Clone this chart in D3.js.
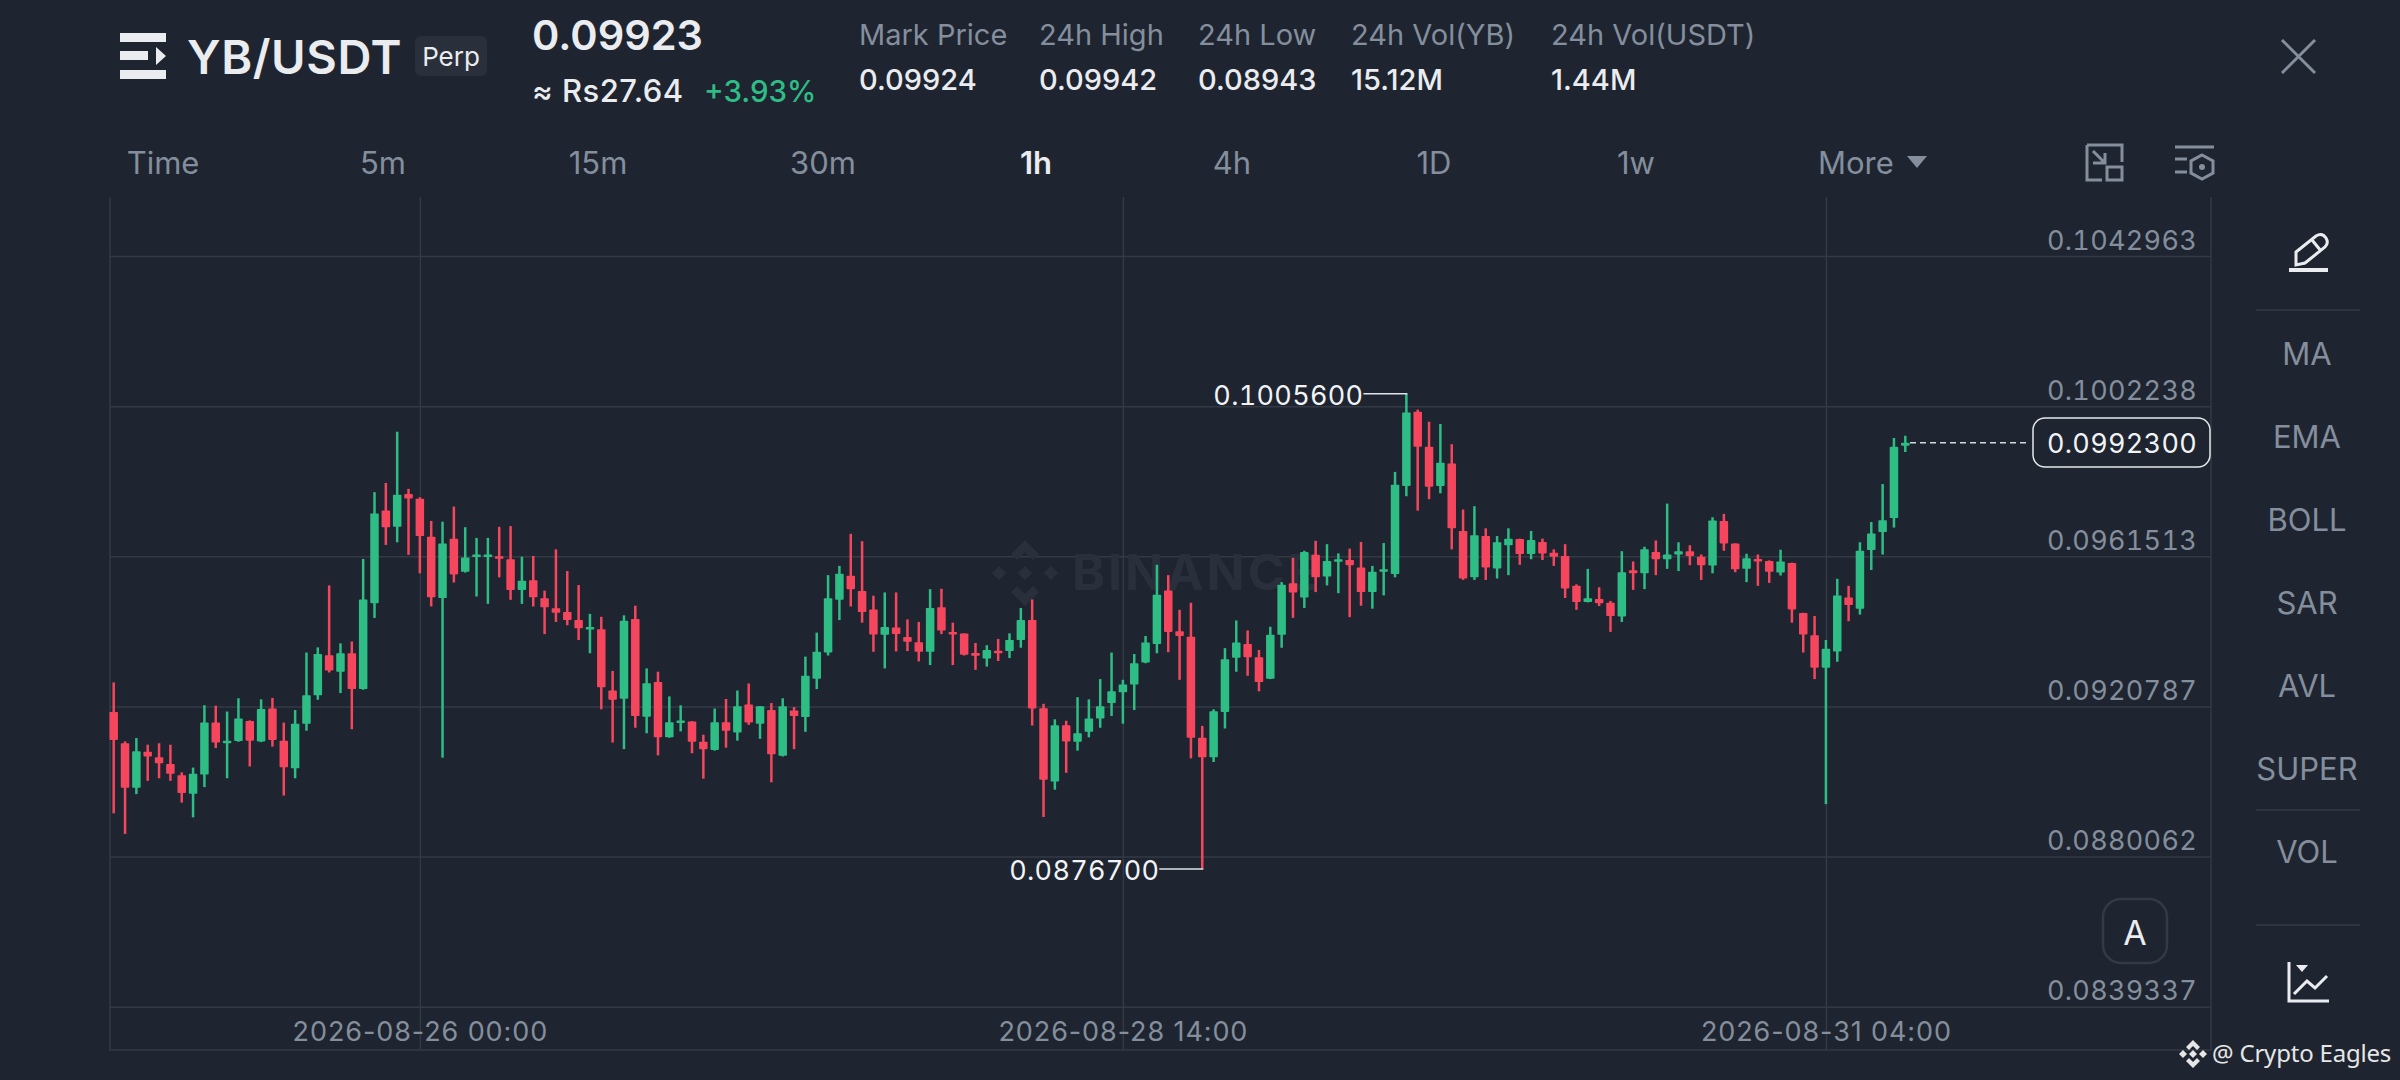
<!DOCTYPE html>
<html>
<head>
<meta charset="utf-8">
<title>YB/USDT Perp</title>
<script src="https://d3js.org/d3.v7.min.js"></script>
<style>
  html, body { margin: 0; padding: 0; background: #1e2530; overflow: hidden; }
  svg { display: block; }
  text { font-family: Inter, "Noto Sans", sans-serif; }
  .grey { fill: #848e9c; }
  .white { fill: #eaecef; }
  .grid line { stroke: #343a44; stroke-width: 1.5; }
  .grid .domain, .labels .domain { display: none; }
  .labels text { fill: #848e9c; font-size: 27px; font-family: Inter, "Noto Sans", sans-serif; }
  .price-text { font-variant-numeric: tabular-nums; letter-spacing: 0.3px; }
  .time-text { letter-spacing: 0.9px; }
  .icon { fill: none; stroke: #848e9c; stroke-width: 3; }
  .icon-w { fill: none; stroke: #eaecef; stroke-width: 3; }
</style>
</head>
<body>
<div id="chart"></div>

<script>

// hourly candles
var highs = [
  0.09273,0.09113,0.09122,0.09104,0.09108,0.09104,0.09029,0.09042,0.09211,0.09210,
  0.09194,0.09230,0.09170,0.09227,0.09231,0.09164,0.09198,0.09354,0.09368,0.09536,
  0.09379,0.09384,0.09608,0.09789,0.09814,0.09953,0.09798,0.09775,0.09711,0.09709,
  0.09750,0.09694,0.09665,0.09665,0.09695,0.09697,0.09614,0.09616,0.09522,0.09634,
  0.09575,0.09537,0.09459,0.09451,0.09304,0.09455,0.09481,0.09311,0.09302,0.09235,
  0.09211,0.09168,0.09131,0.09202,0.09228,0.09251,0.09270,0.09209,0.09217,0.09230,
  0.09206,0.09343,0.09408,0.09564,0.09589,0.09676,0.09656,0.09508,0.09517,0.09517,
  0.09444,0.09437,0.09526,0.09527,0.09435,0.09406,0.09380,0.09374,0.09391,0.09406,
  0.09475,0.09498,0.09215,0.09173,0.09169,0.09233,0.09227,0.09282,0.09354,0.09280,
  0.09350,0.09399,0.09592,0.09564,0.09470,0.09489,0.09155,0.09200,0.09366,0.09441,
  0.09414,0.09361,0.09424,0.09545,0.09611,0.09630,0.09657,0.09648,0.09623,0.09636,
  0.09654,0.09589,0.09651,0.09844,0.10056,0.10013,0.09980,0.09974,0.09919,0.09742,
  0.09751,0.09691,0.09670,0.09691,0.09663,0.09684,0.09663,0.09634,0.09648,0.09539,
  0.09581,0.09531,0.09494,0.09629,0.09601,0.09641,0.09658,0.09758,0.09653,0.09645,
  0.09620,0.09721,0.09730,0.09650,0.09622,0.09620,0.09604,0.09633,0.09598,0.09462,
  0.09453,0.09388,0.09554,0.09535,0.09653,0.09708,0.09811,0.09936,0.09942
];
var lows = [
  0.08918,0.08862,0.08970,0.09006,0.09013,0.09006,0.08947,0.08907,0.08989,0.09095,
  0.09013,0.09112,0.09045,0.09111,0.09099,0.08966,0.09013,0.09142,0.09226,0.09300,
  0.09244,0.09146,0.09253,0.09448,0.09646,0.09653,0.09619,0.09569,0.09479,0.09069,
  0.09544,0.09571,0.09506,0.09486,0.09558,0.09497,0.09486,0.09479,0.09404,0.09437,
  0.09428,0.09388,0.09352,0.09200,0.09110,0.09092,0.09150,0.09135,0.09075,0.09123,
  0.09140,0.09081,0.09012,0.09088,0.09096,0.09115,0.09158,0.09120,0.09002,0.09072,
  0.09092,0.09139,0.09255,0.09346,0.09442,0.09479,0.09435,0.09356,0.09311,0.09357,
  0.09358,0.09330,0.09320,0.09404,0.09320,0.09346,0.09307,0.09316,0.09331,0.09339,
  0.09367,0.09156,0.08908,0.08982,0.09028,0.09088,0.09124,0.09150,0.09182,0.09161,
  0.09198,0.09325,0.09352,0.09355,0.09280,0.09067,0.08767,0.09057,0.09148,0.09302,
  0.09291,0.09249,0.09282,0.09367,0.09448,0.09475,0.09518,0.09536,0.09515,0.09450,
  0.09481,0.09473,0.09509,0.09558,0.09778,0.09739,0.09770,0.09786,0.09634,0.09551,
  0.09551,0.09551,0.09555,0.09564,0.09592,0.09607,0.09605,0.09589,0.09502,0.09470,
  0.09490,0.09480,0.09410,0.09437,0.09524,0.09526,0.09564,0.09581,0.09575,0.09591,
  0.09551,0.09569,0.09630,0.09572,0.09545,0.09535,0.09543,0.09563,0.09435,0.09354,
  0.09282,0.08943,0.09329,0.09439,0.09457,0.09578,0.09620,0.09693,0.09898
];
var opens = [
  0.09193,0.09108,0.08987,0.09085,0.09070,0.09052,0.09021,0.08971,0.09023,0.09164,
  0.09110,0.09114,0.09168,0.09113,0.09202,0.09115,0.09040,0.09161,0.09238,0.09347,
  0.09302,0.09352,0.09255,0.09488,0.09739,0.09695,0.09784,0.09771,0.09668,0.09502,
  0.09663,0.09573,0.09614,0.09614,0.09615,0.09607,0.09524,0.09550,0.09501,0.09474,
  0.09464,0.09442,0.09417,0.09417,0.09251,0.09229,0.09445,0.09180,0.09274,0.09124,
  0.09164,0.09167,0.09112,0.09090,0.09165,0.09137,0.09213,0.09161,0.09198,0.09074,
  0.09197,0.09179,0.09283,0.09354,0.09497,0.09562,0.09521,0.09471,0.09402,0.09422,
  0.09396,0.09382,0.09356,0.09477,0.09410,0.09406,0.09353,0.09338,0.09359,0.09358,
  0.09388,0.09442,0.09203,0.09004,0.09157,0.09112,0.09139,0.09175,0.09217,0.09246,
  0.09267,0.09327,0.09377,0.09522,0.09412,0.09397,0.09123,0.09070,0.09193,0.09340,
  0.09377,0.09341,0.09283,0.09402,0.09542,0.09503,0.09619,0.09560,0.09601,0.09605,
  0.09585,0.09518,0.09573,0.09567,0.09806,0.10007,0.09912,0.09806,0.09867,0.09684,
  0.09558,0.09670,0.09582,0.09645,0.09662,0.09621,0.09654,0.09625,0.09616,0.09535,
  0.09491,0.09499,0.09489,0.09452,0.09577,0.09569,0.09627,0.09607,0.09620,0.09629,
  0.09614,0.09590,0.09711,0.09650,0.09581,0.09608,0.09602,0.09571,0.09597,0.09461,
  0.09401,0.09313,0.09357,0.09503,0.09473,0.09632,0.09681,0.09719,0.09915
];
var closes = [
  0.09117,0.08987,0.09086,0.09072,0.09054,0.09025,0.08973,0.09025,0.09164,0.09110,
  0.09115,0.09175,0.09115,0.09201,0.09117,0.09043,0.09161,0.09238,0.09350,0.09305,
  0.09352,0.09255,0.09498,0.09731,0.09694,0.09782,0.09772,0.09670,0.09504,0.09650,
  0.09566,0.09612,0.09620,0.09620,0.09610,0.09524,0.09549,0.09504,0.09477,0.09462,
  0.09442,0.09420,0.09423,0.09260,0.09226,0.09440,0.09182,0.09271,0.09124,0.09165,
  0.09170,0.09112,0.09092,0.09165,0.09142,0.09208,0.09164,0.09208,0.09078,0.09208,
  0.09182,0.09291,0.09356,0.09501,0.09568,0.09526,0.09464,0.09403,0.09423,0.09404,
  0.09383,0.09356,0.09475,0.09414,0.09404,0.09348,0.09345,0.09361,0.09353,0.09388,
  0.09442,0.09202,0.09009,0.09157,0.09113,0.09135,0.09175,0.09208,0.09249,0.09267,
  0.09325,0.09381,0.09511,0.09410,0.09399,0.09123,0.09070,0.09195,0.09336,0.09381,
  0.09341,0.09274,0.09402,0.09538,0.09517,0.09627,0.09558,0.09602,0.09607,0.09591,
  0.09518,0.09573,0.09580,0.09809,0.10005,0.09912,0.09804,0.09869,0.09691,0.09555,
  0.09672,0.09585,0.09653,0.09663,0.09621,0.09659,0.09623,0.09614,0.09528,0.09491,
  0.09501,0.09488,0.09453,0.09572,0.09569,0.09634,0.09607,0.09620,0.09629,0.09616,
  0.09591,0.09712,0.09650,0.09580,0.09610,0.09601,0.09573,0.09601,0.09471,0.09403,
  0.09313,0.09364,0.09509,0.09483,0.09630,0.09677,0.09713,0.09912,0.09923
];

var priceTicks = [0.1042963, 0.1002238, 0.0961513, 0.0920787, 0.0880062, 0.0839337];

// time axis: candle index -> label
var timeTickIndex = [27, 89, 151];
var timeTickLabels = ["2026-08-26 00:00", "2026-08-28 14:00", "2026-08-31 04:00"];

var highMark = { index: 114, price: 0.10056, label: "0.1005600" };
var lowMark = { index: 96, price: 0.08767, label: "0.0876700" };
var lastPrice = 0.09923;

var statLabels = ["Mark Price", "24h High", "24h Low", "24h Vol(YB)", "24h Vol(USDT)"];
var statValues = ["0.09924", "0.09942", "0.08943", "15.12M", "1.44M"];
var statX = [859, 1039, 1198, 1351, 1551];

var intervals = ["Time", "5m", "15m", "30m", "1h", "4h", "1D", "1w"];
var intervalX = [163, 383, 598, 823, 1036, 1232, 1434, 1636];

var indicators = ["MA", "EMA", "BOLL", "SAR", "AVL", "SUPER", "VOL"];

var width = 2400,
    height = 1080;

var green = "#2ebd85",
    red = "#f6465d",
    bg = "#1e2530",
    lineColor = "#343a44";

// plot box (window.top is read-only, so no bare "top" here)
var plotLeft = 110, plotRight = 2211, plotTop = 197, plotBottom = 1050;

var svg = d3.select("#chart")
    .append("svg")
    .attr("width", width)
    .attr("height", height);

var x = d3.scaleLinear().domain([0, closes.length - 1]).range([113.7, 1905.3]);
var y = d3.scaleLinear().domain([0.0839337, 0.1042963]).range([1006.7, 256]);

// frame and grid
svg.append("g")
    .attr("class", "grid")
    .attr("transform", "translate(" + plotRight + ",0)")
    .call(d3.axisLeft(y).tickValues(priceTicks).tickSize(plotRight - plotLeft).tickFormat(""));

svg.append("g")
    .attr("class", "grid")
    .attr("transform", "translate(0," + plotBottom + ")")
    .call(d3.axisTop(x).tickValues(timeTickIndex).tickSize(plotBottom - plotTop).tickFormat(""));

svg.append("path")
    .attr("d", "M" + plotLeft + "," + plotTop + "V" + plotBottom + "H" + plotRight + "V" + plotTop)
    .attr("fill", "none")
    .attr("stroke", lineColor)
    .attr("stroke-width", 1.5);

// faint BINANCE watermark sits under the candles
var mark = svg.append("g").attr("transform", "translate(1025,573)").attr("fill", "#2a303b");
mark.append("path").attr("d", "M0,-33L14,-19L8,-13L0,-21L-8,-13L-14,-19Z");
mark.append("path").attr("d", "M0,33L14,19L8,13L0,21L-8,13L-14,19Z");
mark.append("path").attr("d", "M-33,0L-26,-7L-19,0L-26,7Z");
mark.append("path").attr("d", "M33,0L26,-7L19,0L26,7Z");
mark.append("path").attr("d", "M0,-7L7,0L0,7L-7,0Z");
svg.append("text")
    .attr("x", 1072)
    .attr("y", 590)
    .attr("font-size", 50)
    .attr("font-weight", 700)
    .attr("letter-spacing", 3)
    .attr("fill", "#2a303b")
    .text("BINANCE");

// candles
var candle = svg.append("g")
    .selectAll("g")
    .data(closes)
    .enter()
    .append("g")
    .attr("fill", function(d, i) { return d >= opens[i] ? green : red; });

candle.append("rect")
    .attr("x", function(d, i) { return x(i) - 1.25; })
    .attr("width", 2.5)
    .attr("y", function(d, i) { return y(highs[i]); })
    .attr("height", function(d, i) { return y(lows[i]) - y(highs[i]); });

candle.append("rect")
    .attr("x", function(d, i) { return x(i) - 4.25; })
    .attr("width", 8.5)
    .attr("rx", 0.8)
    .attr("y", function(d, i) { return y(Math.max(d, opens[i])); })
    .attr("height", function(d, i) { return Math.max(2.5, Math.abs(y(d) - y(opens[i]))); });

// price and time labels
var priceLabels = svg.append("g")
    .attr("class", "labels")
    .attr("transform", "translate(" + plotRight + ",0)")
    .call(d3.axisLeft(y).tickValues(priceTicks).tickSize(0).tickPadding(14).tickFormat(d3.format(".7f")));
priceLabels.selectAll("text").attr("class", "price-text").attr("dy", -7);

var timeLabels = svg.append("g")
    .attr("class", "labels")
    .attr("transform", "translate(0," + plotBottom + ")")
    .call(d3.axisTop(x).tickValues(timeTickIndex).tickSize(0).tickFormat(function(d, i) { return timeTickLabels[i]; }));
timeLabels.selectAll("text").attr("class", "time-text").attr("y", -9);

// high / low call-outs: the leader runs to the wick's tip
function callout(m, lineY, len) {
    var px = x(m.index);
    svg.append("line")
        .attr("x1", px - len)
        .attr("x2", px + 1)
        .attr("y1", lineY)
        .attr("y2", lineY)
        .attr("stroke", "#dfe3e8")
        .attr("stroke-width", 1.5);
    svg.append("text")
        .attr("class", "price-text")
        .attr("x", px - len)
        .attr("y", lineY + 11)
        .attr("text-anchor", "end")
        .attr("font-size", 27)
        .attr("fill", "#f2f3f5")
        .text(m.label);
}
callout(highMark, y(highMark.price), 43);
callout(lowMark, y(lowMark.price), 43);

// last price line and box
svg.append("line")
    .attr("x1", 1910)
    .attr("x2", 2028)
    .attr("y1", y(lastPrice))
    .attr("y2", y(lastPrice))
    .attr("stroke", "#d5d8dc")
    .attr("stroke-width", 1.5)
    .attr("stroke-dasharray", "6 4");
svg.append("rect")
    .attr("x", 2033)
    .attr("y", 418)
    .attr("width", 177)
    .attr("height", 49)
    .attr("rx", 12)
    .attr("fill", bg)
    .attr("stroke", "#e6e8ea")
    .attr("stroke-width", 1.5);
svg.append("text")
    .attr("class", "price-text")
    .attr("x", 2197)
    .attr("y", 453)
    .attr("text-anchor", "end")
    .attr("font-size", 27)
    .attr("fill", "#f2f3f5")
    .text(d3.format(".7f")(lastPrice));

// header: symbol
var logo = svg.append("g").attr("fill", "#eaecef");
logo.append("rect").attr("x", 120).attr("y", 33).attr("width", 46).attr("height", 9);
logo.append("rect").attr("x", 120).attr("y", 51).attr("width", 28).attr("height", 9);
logo.append("path").attr("d", "M156,47L166,56L156,65Z");
logo.append("rect").attr("x", 120).attr("y", 70).attr("width", 46).attr("height", 9);

svg.append("text")
    .attr("x", 187).attr("y", 74)
    .attr("font-size", 47).attr("font-weight", 600)
    .attr("class", "white").attr("letter-spacing", 0.6)
    .text("YB/USDT");
svg.append("rect")
    .attr("x", 415).attr("y", 36).attr("width", 72).attr("height", 40)
    .attr("rx", 6).attr("fill", "#2a303b");
svg.append("text")
    .attr("x", 451).attr("y", 66).attr("text-anchor", "middle")
    .attr("font-size", 26).attr("class", "white")
    .text("Perp");

svg.append("text")
    .attr("x", 532).attr("y", 50)
    .attr("font-size", 41.5).attr("font-weight", 600).attr("class", "white")
    .text("0.09923");
svg.append("text")
    .attr("x", 532).attr("y", 102)
    .attr("font-size", 31).attr("font-weight", 500).attr("letter-spacing", 0.5).attr("class", "white")
    .text("≈ Rs27.64");
svg.append("text")
    .attr("x", 704).attr("y", 102)
    .attr("font-size", 29.5).attr("font-weight", 500).attr("fill", green)
    .text("+3.93%");

// header: 24h stats
svg.append("g").selectAll("text").data(statLabels).enter().append("text")
    .attr("x", function(d, i) { return statX[i]; })
    .attr("y", 45)
    .attr("font-size", 29).attr("class", "grey")
    .text(function(d) { return d; });
svg.append("g").selectAll("text").data(statValues).enter().append("text")
    .attr("x", function(d, i) { return statX[i]; })
    .attr("y", 90)
    .attr("font-size", 29).attr("font-weight", 500).attr("class", "white")
    .text(function(d) { return d; });

// interval row
svg.append("g").selectAll("text").data(intervals).enter().append("text")
    .attr("x", function(d, i) { return intervalX[i]; })
    .attr("y", 174)
    .attr("text-anchor", "middle")
    .attr("font-size", 31)
    .attr("font-weight", function(d) { return d == "1h" ? 600 : 400; })
    .attr("fill", function(d) { return d == "1h" ? "#eaecef" : "#848e9c"; })
    .text(function(d) { return d; });
svg.append("text")
    .attr("x", 1818).attr("y", 174)
    .attr("font-size", 31).attr("class", "grey")
    .text("More");
svg.append("path").attr("d", "M1907,156H1927L1917,168Z").attr("fill", "#848e9c");

// toolbar icons
svg.append("path").attr("class", "icon").attr("d", "M2087,145H2122V162M2102,180H2087V145M2093,151L2105,163M2093,163H2105V153");
svg.append("rect").attr("class", "icon").attr("x", 2107).attr("y", 167).attr("width", 15).attr("height", 13);
svg.append("path").attr("class", "icon").attr("d", "M2175,147H2214M2175,159H2187M2175,172H2187");
svg.append("path").attr("class", "icon").attr("d", "M2202,155L2213,161V173L2202,179L2191,173V161Z");
svg.append("circle").attr("cx", 2202).attr("cy", 167).attr("r", 3).attr("fill", "#848e9c");
svg.append("path").attr("class", "icon").attr("d", "M2282,40L2315,73M2315,40L2282,73");

// right sidebar
svg.append("path").attr("class", "icon-w")
    .attr("d", "M2296,252L2316,236Q2322,232 2326,238Q2329,243 2325,247L2305,263L2296,265Z M2312,240L2321,251");
svg.append("rect").attr("x", 2289).attr("y", 268).attr("width", 39).attr("height", 4).attr("fill", "#eaecef");
svg.append("g").selectAll("line").data([310, 810, 925]).enter().append("line")
    .attr("x1", 2256).attr("x2", 2360)
    .attr("y1", function(d) { return d; }).attr("y2", function(d) { return d; })
    .attr("stroke", lineColor).attr("stroke-width", 1.5);
svg.append("g").selectAll("text").data(indicators).enter().append("text")
    .attr("x", 2307)
    .attr("y", function(d, i) { return 365 + i * 83; })
    .attr("text-anchor", "middle")
    .attr("font-size", 31).attr("class", "grey")
    .text(function(d) { return d; });
svg.append("path").attr("class", "icon-w").attr("stroke-width", 4).attr("d", "M2289,962V1001H2329");
svg.append("path").attr("class", "icon-w").attr("d", "M2294,994L2307,981L2315,988L2327,976");
svg.append("path").attr("d", "M2296,965H2308L2302,972Z").attr("fill", "#eaecef");

// auto-scale button
svg.append("rect")
    .attr("x", 2103).attr("y", 899).attr("width", 64).attr("height", 64).attr("rx", 18)
    .attr("fill", "none").attr("stroke", lineColor).attr("stroke-width", 2.5);
svg.append("text")
    .attr("x", 2135).attr("y", 945).attr("text-anchor", "middle")
    .attr("font-size", 34).attr("fill", "#eaecef")
    .text("A");

// feed credit, bottom corner
var credit = svg.append("g").attr("transform", "translate(2193,1054)").attr("fill", "#e6e6e6");
credit.append("path").attr("d", "M0,-14L7,-7L4,-4L0,-8L-4,-4L-7,-7Z");
credit.append("path").attr("d", "M0,14L7,7L4,4L0,8L-4,4L-7,7Z");
credit.append("path").attr("d", "M-14,0L-10,-4L-6,0L-10,4Z");
credit.append("path").attr("d", "M14,0L10,-4L6,0L10,4Z");
credit.append("path").attr("d", "M0,-4L4,0L0,4L-4,0Z");
svg.append("text")
    .attr("x", 2212).attr("y", 1062)
    .attr("font-size", 24).attr("fill", "#e6e6e6")
    .attr("letter-spacing", -0.2)
    .style("font-family", "'Noto Sans'")
    .text("@ Crypto Eagles");

</script>
</body>
</html>
